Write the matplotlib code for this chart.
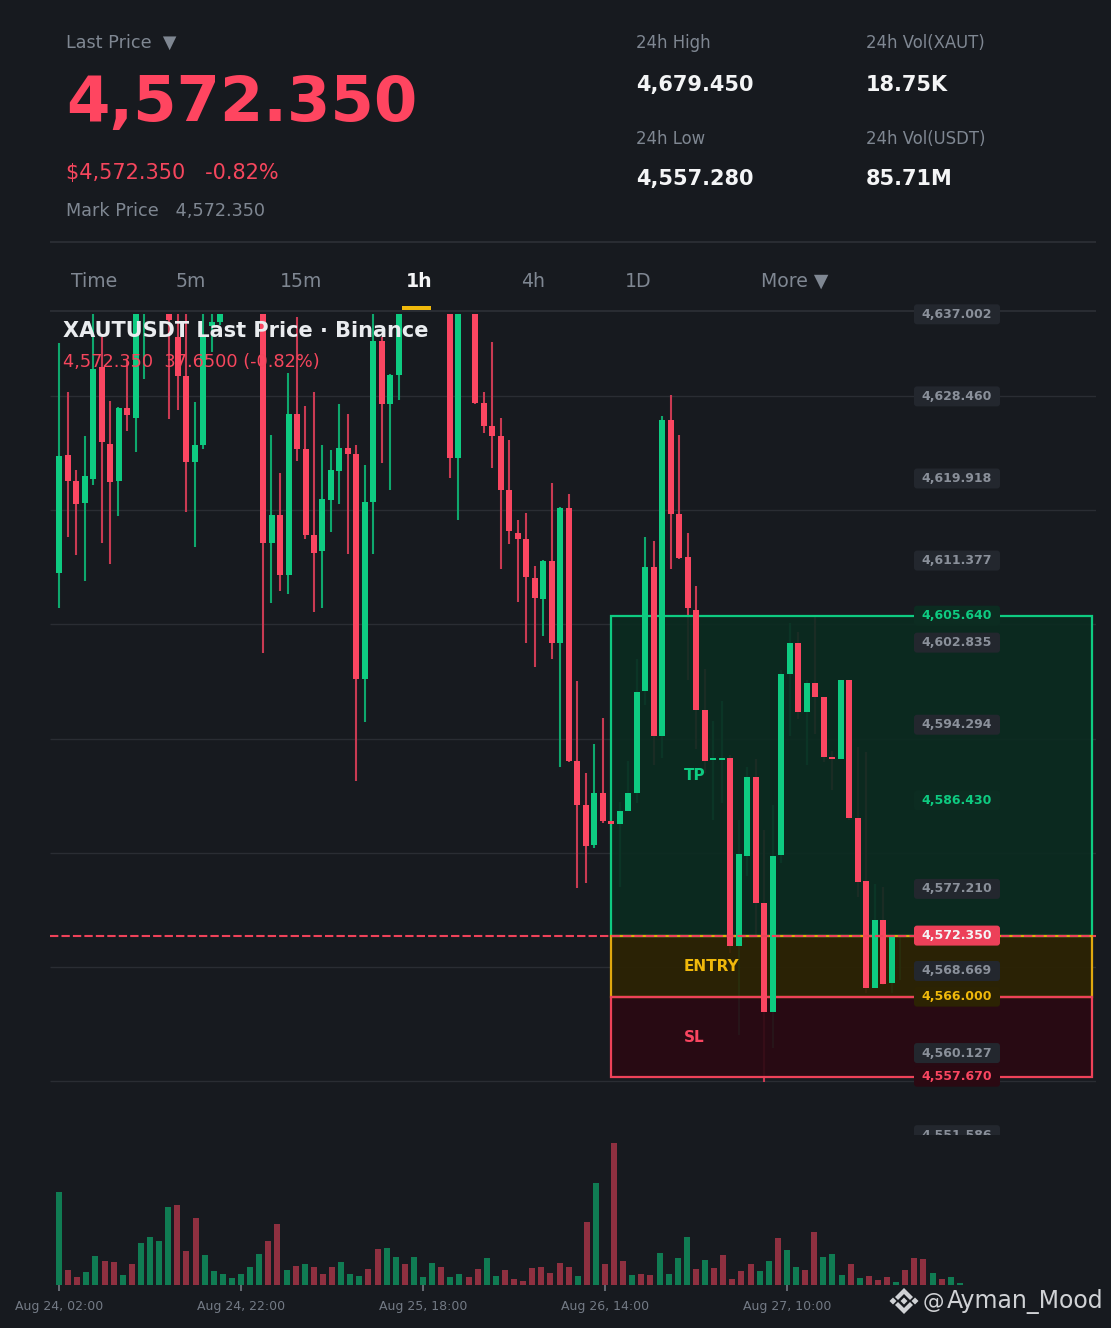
import matplotlib
matplotlib.use('Agg')
from matplotlib import pyplot as plt
from matplotlib.patches import Rectangle, Polygon, FancyBboxPatch

W, H = 1111, 1328
BG = '#171a1f'
UP = '#0ecb81'
DOWN = '#fa4661'
UP_WICK = '#0ea86d'
DOWN_WICK = '#c93a52'
GRID = '#2a2d33'
GREY = '#7f8792'
CHIP_GREY = '#8a909a'

# candles, hourly. the ones above 4637 sit outside the visible range
opens = [4610.11, 4622.39, 4619.69, 4617.40, 4619.90, 4631.55, 4623.54, 4619.69, 4627.28, 4626.24,
         4639, 4641, 4644, 4645, 4634.67, 4630.61, 4621.66, 4623.43, 4635.82, 4636.23,
         4639, 4644, 4648, 4652, 4642, 4613.24, 4616.15, 4609.91, 4626.66, 4623.02,
         4614.07, 4612.40, 4617.71, 4620.73, 4623.12, 4622.50, 4599.08, 4617.50, 4634.26, 4627.70,
         4630.72, 4640, 4648, 4653, 4650, 4646, 4642, 4622.08, 4644, 4640,
         4627.80, 4625.41, 4624.37, 4618.75, 4614.28, 4613.65, 4609.59, 4607.41, 4611.36, 4602.83,
         4616.88, 4590.55, 4585.97, 4581.81, 4587.22, 4584.31, 4584.00, 4585.35, 4587.22, 4597.83,
         4610.74, 4593.15, 4626.03, 4616.25, 4611.78, 4606.26, 4595.86, 4590.65, 4590.65, 4590.86,
         4571.30, 4580.66, 4588.89, 4575.77, 4564.43, 4580.77, 4599.60, 4602.83, 4595.65, 4598.67,
         4597.21, 4590.97, 4590.76, 4598.98, 4584.62, 4578.06, 4566.93, 4574.00, 4567.45, 4572.30]
closes = [4622.29, 4619.69, 4617.29, 4620.21, 4631.34, 4623.75, 4619.58, 4627.28, 4626.56, 4640,
          4642, 4644, 4650, 4636.44, 4630.61, 4621.66, 4623.43, 4634.67, 4636.23, 4639,
          4644, 4648, 4652, 4649, 4613.24, 4616.15, 4609.91, 4626.66, 4623.02, 4614.07,
          4612.19, 4617.81, 4620.83, 4623.12, 4622.50, 4599.08, 4617.50, 4634.26, 4627.70, 4630.72,
          4640, 4648, 4653, 4650, 4646, 4642, 4622.08, 4642, 4640, 4627.80,
          4625.41, 4624.37, 4618.75, 4614.48, 4613.65, 4609.70, 4607.51, 4611.36, 4602.83, 4616.88,
          4590.55, 4585.97, 4581.71, 4587.22, 4584.31, 4584.00, 4585.35, 4587.22, 4597.73, 4610.74,
          4593.15, 4626.03, 4616.25, 4611.67, 4606.47, 4595.86, 4590.55, 4590.86, 4590.86, 4571.30,
          4580.87, 4588.89, 4575.77, 4564.43, 4580.66, 4599.60, 4602.83, 4595.65, 4598.67, 4597.21,
          4590.97, 4590.76, 4598.98, 4584.62, 4577.96, 4566.93, 4574.00, 4567.35, 4572.24, 4572.35]
highs = [4634.05, 4628.95, 4620.83, 4624.37, 4640, 4634.67, 4628.01, 4627.39, 4632.28, 4642,
         4645, 4647, 4652, 4648, 4641, 4640, 4627.91, 4640, 4640, 4641,
         4646, 4650, 4654, 4655, 4645, 4624.47, 4620.52, 4630.93, 4636.75, 4627.49,
         4628.95, 4623.43, 4622.91, 4627.70, 4626.66, 4623.43, 4621.35, 4640, 4634.67, 4630.82,
         4645, 4652, 4656, 4657, 4652, 4649, 4645, 4645, 4646, 4643,
         4628.95, 4634.15, 4626.24, 4623.95, 4615.63, 4616.36, 4610.84, 4611.47, 4619.48, 4616.98,
         4618.33, 4598.88, 4589.30, 4592.32, 4595.02, 4585.24, 4586.28, 4590.55, 4601.16, 4613.86,
         4613.44, 4626.45, 4628.64, 4624.47, 4614.28, 4608.76, 4600.12, 4594.71, 4596.79, 4591.17,
         4584.41, 4589.93, 4590.76, 4583.37, 4585.97, 4600.02, 4604.91, 4603.97, 4598.98, 4605.64,
         4597.21, 4591.59, 4598.98, 4598.98, 4592.01, 4591.49, 4577.75, 4577.44, 4572.34, 4572.35]
lows = [4606.47, 4613.86, 4611.99, 4609.28, 4619.27, 4613.24, 4611.05, 4616.05, 4624.89, 4622.70,
        4630.30, 4638.7, 4642, 4626.14, 4627.08, 4616.46, 4612.82, 4623.02, 4633.11, 4635.92,
        4638, 4643, 4646, 4645, 4601.79, 4606.99, 4608.24, 4607.93, 4621.77, 4613.65,
        4606.06, 4606.47, 4614.38, 4617.29, 4612.09, 4588.47, 4594.61, 4612.09, 4621.56, 4618.75,
        4628.12, 4638, 4646, 4647, 4644, 4640, 4620.00, 4615.63, 4638, 4627.70,
        4624.68, 4621.04, 4610.53, 4613.13, 4607.10, 4602.83, 4600.33, 4603.56, 4601.16, 4589.93,
        4590.45, 4577.33, 4577.86, 4581.50, 4584.10, 4583.79, 4577.44, 4586.08, 4586.18, 4596.38,
        4590.13, 4590.86, 4610.53, 4611.57, 4598.98, 4591.80, 4589.30, 4584.41, 4586.18, 4570.57,
        4562.04, 4578.58, 4572.34, 4557.15, 4560.69, 4579.94, 4593.15, 4594.92, 4590.13, 4593.36,
        4590.45, 4587.53, 4590.76, 4584.41, 4576.40, 4566.41, 4566.93, 4567.24, 4566.41, 4567.76]

volumes = [279, 45, 24, 39, 87, 72, 69, 30, 63, 126, 144, 132, 234, 240, 102, 201, 90, 42, 33, 21,
           33, 54, 93, 132, 183, 45, 57, 63, 54, 33, 54, 69, 33, 27, 48, 108, 111, 84, 63, 84,
           24, 66, 54, 24, 33, 24, 48, 81, 27, 45, 18, 12, 51, 54, 36, 66, 54, 27, 189, 306,
           63, 426, 72, 30, 33, 30, 96, 33, 81, 144, 48, 75, 51, 90, 18, 42, 63, 42, 72, 141,
           105, 54, 45, 159, 84, 93, 30, 63, 21, 27, 15, 24, 9, 45, 81, 78, 36, 18, 24, 6]
vol_up = [1, 0, 0, 1, 1, 0, 0, 1, 0, 1, 1, 1, 1, 0, 0, 0, 1, 1, 1, 1,
          1, 1, 1, 0, 0, 1, 0, 1, 0, 0, 0, 1, 1, 1, 0, 0, 1, 1, 0, 1,
          1, 1, 0, 1, 1, 0, 0, 1, 1, 0, 0, 0, 0, 0, 0, 0, 0, 1, 0, 1,
          0, 0, 0, 1, 0, 0, 1, 1, 1, 1, 0, 1, 0, 0, 0, 0, 0, 1, 1, 0,
          1, 1, 0, 0, 1, 1, 1, 0, 1, 0, 0, 0, 1, 0, 0, 0, 1, 0, 1, 1]
tick_idx = [0, 20, 40, 60, 80]
tick_labels = ['Aug 24, 02:00', 'Aug 24, 22:00', 'Aug 25, 18:00', 'Aug 26, 14:00', 'Aug 27, 10:00']

grid_prices = [4628.53, 4616.67, 4604.81, 4592.84, 4580.98, 4569.11, 4557.25]
last_price = 4572.35
tp_price = 4605.64
entry_price = 4572.35
stop_price = 4566.00
sl_price = 4557.67

price_labels = [(4637.002, CHIP_GREY, '#23272e'), (4628.460, CHIP_GREY, '#23272e'), (4619.918, CHIP_GREY, '#23272e'),
                (4611.377, CHIP_GREY, '#23272e'), (4605.640, UP, '#0c2c21'), (4602.835, CHIP_GREY, '#23272e'),
                (4594.294, CHIP_GREY, '#23272e'), (4586.430, UP, '#0c2c21'), (4577.210, CHIP_GREY, '#23272e'),
                (4568.669, CHIP_GREY, '#23272e'), (4566.000, '#f0b90b', '#2c2303'), (4560.127, CHIP_GREY, '#23272e'),
                (4557.670, DOWN, '#2a0912'), (4572.350, '#f4f5f6', '#ec4059'), (4551.586, CHIP_GREY, '#23272e')]

fig = plt.figure(figsize=(W / 100, H / 100), dpi=100, facecolor=BG)


def rect(left, top, right, bottom):
    return [left / W, 1 - bottom / H, (right - left) / W, (bottom - top) / H]


# price pane: 8.5 px per candle, 9.61 px per price unit
ax = fig.add_axes(rect(50, 314, 1096, 1135), facecolor=BG)
ax.set_xlim((50 - 59) / 8.5, (1096 - 59) / 8.5)
ax.set_ylim(4669.74 - 0.10406 * 1135, 4669.74 - 0.10406 * 314)
ax.axis('off')

xs = list(range(len(opens)))
up = [c >= o for o, c in zip(opens, closes)]
ax.hlines(grid_prices, *ax.get_xlim(), color=GRID, lw=1, zorder=1)
ax.vlines(xs, lows, highs, colors=[UP_WICK if u else DOWN_WICK for u in up], lw=1.5, zorder=2)

# boxes hide the wicks almost entirely, bodies stay on top
box_l = (611.5 - 59) / 8.5
box_w = (1092 - 611.5) / 8.5
ax.add_patch(Rectangle((box_l, entry_price), box_w, tp_price - entry_price, fc='#0b2b20', ec='none', alpha=0.92, zorder=3))
ax.add_patch(Rectangle((box_l, stop_price), box_w, entry_price - stop_price, fc='#2c2303', ec='none', alpha=0.92, zorder=3))
ax.add_patch(Rectangle((box_l, sl_price), box_w, stop_price - sl_price, fc='#2a0912', ec='none', alpha=0.92, zorder=3))
ax.add_patch(Rectangle((box_l, entry_price), box_w, tp_price - entry_price, fc='none', ec=UP, lw=1.6, zorder=3.5))
ax.add_patch(Rectangle((box_l, stop_price), box_w, entry_price - stop_price, fc='none', ec='#e0a80e', lw=1.6, zorder=3.6))
ax.add_patch(Rectangle((box_l, sl_price), box_w, stop_price - sl_price, fc='none', ec='#ee4259', lw=1.6, zorder=3.7))

bottoms = [min(o, c) for o, c in zip(opens, closes)]
heights = [abs(o - c) for o, c in zip(opens, closes)]
ax.bar(xs, heights, bottom=bottoms, width=6 / 8.5, color=[UP if u else DOWN for u in up], zorder=4)

ax.axhline(last_price, color='#ee4259', lw=1.5, dashes=(4, 1.5), zorder=5)

# volume pane: 9.1 px per bar, 3 units per px
ax_vol = fig.add_axes(rect(50, 1135, 1096, 1285), facecolor='none')
ax_vol.set_xlim((50 - 59) / 9.1, (1096 - 59) / 9.1)
ax_vol.set_ylim(0, 450)
ax_vol.bar(range(len(volumes)), volumes, width=6 / 9.1, color=['#107c53' if u else '#8f3040' for u in vol_up])
for s in ax_vol.spines.values():
    s.set_visible(False)
ax_vol.set_yticks([])
ax_vol.set_xticks(tick_idx, tick_labels)
ax_vol.tick_params(axis='x', length=4.5, width=1.3, color='#6d727a', labelcolor='#737a85', labelsize=9, pad=6.5)

# everything around the chart, in pixels
top = fig.add_axes([0, 0, 1, 1], facecolor='none', zorder=10)
top.set_xlim(0, W)
top.set_ylim(H, 0)
top.axis('off')


def label(x, y, s, color=GREY, size=12.7, weight='normal', ha='left'):
    top.text(x, y, s, color=color, fontsize=size, fontweight=weight, ha=ha, va='center')


top.hlines([242, 311], 50, 1096, color=GRID, lw=1.4)

# price chips on the right, the lowest one is cut off by the volume pane
pane_clip = Rectangle((0, 0), W, 1135, transform=top.transData)
for price, color, chip in price_labels:
    y_disp = ax.transData.transform((0, price))[1]
    y = top.transData.inverted().transform((0, y_disp))[1] - 0.3
    patch = FancyBboxPatch((914, y - 10), 86, 20, boxstyle='round,pad=0,rounding_size=3', fc=chip, ec='none',
                           zorder=3 if price == last_price else 2)
    top.add_patch(patch)
    txt = top.text(957, y, f'{price:,.3f}', color=color, fontsize=9, fontweight='bold', ha='center', va='center',
                   zorder=4)
    if price < 4552:
        patch.set_clip_path(pane_clip)
        txt.set_clip_path(pane_clip)
        txt.set_clip_on(True)

label(66, 43, 'Last Price  ▼')
label(66, 104.5, '4,572.350', '#ff4560', 44.9, 'bold')
label(66, 173, '$4,572.350   -0.82%', '#f6465d', 15)
label(66, 211, 'Mark Price   4,572.350')
label(636, 43, '24h High', size=11.9)
label(636, 85, '4,679.450', '#f4f5f6', 15, 'bold')
label(866, 43, '24h Vol(XAUT)', size=11.9)
label(866, 85, '18.75K', '#f4f5f6', 15, 'bold')
label(636, 139, '24h Low', size=11.9)
label(636, 179, '4,557.280', '#f4f5f6', 15, 'bold')
label(866, 139, '24h Vol(USDT)', size=11.9)
label(866, 179, '85.71M', '#f4f5f6', 15, 'bold')

for x, s in zip([71, 176, 280, 521, 625, 761], ['Time', '5m', '15m', '4h', '1D', 'More ▼']):
    label(x, 281.5, s, size=13.6)
label(406, 281.5, '1h', '#f4f5f6', 13.6, 'bold')
top.add_patch(Rectangle((402, 306), 29, 4, fc='#f0b90b', ec='none'))

label(63, 331, 'XAUTUSDT Last Price · Binance', '#eaecef', 15, 'bold')
label(63, 362, '4,572.350  37.6500 (-0.82%)', '#f6465d', 12.75)
label(684, 775, 'TP', UP, 11, 'bold')
label(684, 966.5, 'ENTRY', '#f0b90b', 11, 'bold')
label(684, 1037, 'SL', DOWN, 11, 'bold')

# watermark
MARK = '#d0d2d5'
for cx, r in [(893, 3.5), (915, 3.5), (904, 3.5)]:
    top.add_patch(Polygon([(cx - r, 1301), (cx, 1301 - r), (cx + r, 1301), (cx, 1301 + r)], fc=MARK, ec='none'))
top.add_patch(Polygon([(904, 1288), (913, 1297), (910, 1300), (904, 1294), (898, 1300), (895, 1297)], fc=MARK, ec='none'))
top.add_patch(Polygon([(904, 1314), (913, 1305), (910, 1302), (904, 1308), (898, 1302), (895, 1305)], fc=MARK, ec='none'))
label(923, 1302, '@', MARK, 15.5)
label(947, 1302, 'Ayman_Mood', MARK, 17)

fig.savefig('out.png', dpi=100, facecolor=BG)
plt.close(fig)
